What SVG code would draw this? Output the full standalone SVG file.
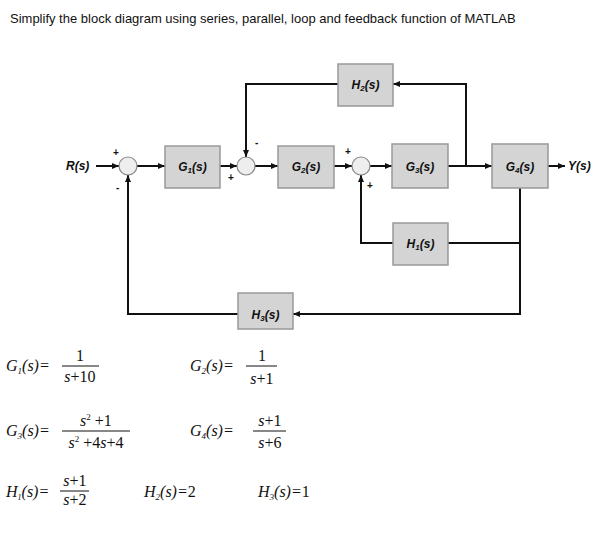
<svg xmlns="http://www.w3.org/2000/svg" width="606" height="554" viewBox="0 0 606 554">
<defs>
<marker id="a" markerWidth="8" markerHeight="8" refX="7" refY="4" orient="auto" markerUnits="userSpaceOnUse"><path d="M0,1 L7,4 L0,7 z" fill="#111"/></marker>
</defs>
<style>
.b{fill:#d4d4d4;stroke:#999;stroke-width:1.5}
.s{fill:#eee;stroke:#888;stroke-width:1.2}
.l{font-family:"Liberation Sans",Arial,sans-serif;font-weight:bold;font-style:italic;font-size:12px;fill:#111}
.c path{fill:none;stroke:#111;stroke-width:2;marker-end:url(#a)}
.c .n{marker-end:none}
.g{font-family:"Liberation Sans",Arial,sans-serif;font-weight:bold;font-size:10px;fill:#111}
.e{font-family:"Liberation Serif","Times New Roman",serif;font-style:italic;font-size:16px;fill:#111}
.r{font-style:normal}
.f{stroke:#111;stroke-width:1}
</style>
<rect width="606" height="554" fill="#fff"/>
<text x="10" y="23" font-family="Liberation Sans,Arial,sans-serif" font-size="13" fill="#111">Simplify the block diagram using series, parallel, loop and feedback function of MATLAB</text>
<g class="c">
<path d="M96,166 H119"/>
<path d="M137,166 H165"/>
<path d="M220,166 H237"/>
<path d="M255,166 H278"/>
<path d="M334,166 H352"/>
<path d="M370,166 H392"/>
<path d="M448,166 H492"/>
<path d="M548,166 H565"/>
<path d="M466,166 V84 H393"/>
<path d="M338,84 H246 V157"/>
<path d="M520,188 V314 H293"/>
<path class="n" d="M520,243 H448"/>
<path d="M393,243 H361 V175"/>
<path d="M238,314 H128 V175"/>
</g>
<g id="sum1"><circle class="s" cx="128" cy="166" r="9"/><text class="g" x="113" y="156">+</text><text class="g" x="116" y="191">-</text></g>
<g id="sum2"><circle class="s" cx="246" cy="166" r="9"/><text class="g" x="255" y="146">-</text><text class="g" x="228" y="181">+</text></g>
<g id="sum3"><circle class="s" cx="361" cy="166" r="9"/><text class="g" x="345" y="155">+</text><text class="g" x="367" y="189">+</text></g>
<g id="G1"><rect class="b" x="165" y="146" width="55" height="42"/><text class="l" x="192.5" y="171" text-anchor="middle">G<tspan font-size="8" dy="2">1</tspan><tspan dy="-2">(s)</tspan></text></g>
<g id="G2"><rect class="b" x="278" y="146" width="56" height="42"/><text class="l" x="306" y="171" text-anchor="middle">G<tspan font-size="8" dy="2">2</tspan><tspan dy="-2">(s)</tspan></text></g>
<g id="G3"><rect class="b" x="392" y="144" width="56" height="44"/><text class="l" x="420" y="171" text-anchor="middle">G<tspan font-size="8" dy="2">3</tspan><tspan dy="-2">(s)</tspan></text></g>
<g id="G4"><rect class="b" x="492" y="144" width="56" height="44"/><text class="l" x="520" y="171" text-anchor="middle">G<tspan font-size="8" dy="2">4</tspan><tspan dy="-2">(s)</tspan></text></g>
<g id="H2"><rect class="b" x="338" y="64" width="55" height="42"/><text class="l" x="365.5" y="89" text-anchor="middle">H<tspan font-size="8" dy="2">2</tspan><tspan dy="-2">(s)</tspan></text></g>
<g id="H1"><rect class="b" x="393" y="223" width="55" height="42"/><text class="l" x="420.5" y="248" text-anchor="middle">H<tspan font-size="8" dy="2">1</tspan><tspan dy="-2">(s)</tspan></text></g>
<g id="H3"><rect class="b" x="238" y="293" width="55" height="36"/><text class="l" x="265.5" y="319" text-anchor="middle">H<tspan font-size="8" dy="2">3</tspan><tspan dy="-2">(s)</tspan></text></g>
<text class="l" x="66" y="170">R(s)</text>
<text class="l" x="568" y="170">Y(s)</text>
<g id="eqs">
<text class="e" x="6" y="371">G<tspan font-size="9" dy="3">1</tspan><tspan dy="-3">(s)=</tspan></text>
<text class="e r" x="80" y="361" text-anchor="middle">1</text><line class="f" x1="62" y1="366" x2="99" y2="366"/><text class="e" x="80" y="382" text-anchor="middle">s<tspan class="r">+10</tspan></text>
<text class="e" x="190" y="371">G<tspan font-size="9" dy="3">2</tspan><tspan dy="-3">(s)=</tspan></text>
<text class="e r" x="262" y="361" text-anchor="middle">1</text><line class="f" x1="246" y1="366" x2="277" y2="366"/><text class="e" x="262" y="384" text-anchor="middle">s<tspan class="r">+1</tspan></text>
<text class="e" x="6" y="436">G<tspan font-size="9" dy="3">3</tspan><tspan dy="-3">(s)=</tspan></text>
<text class="e" x="96" y="426" text-anchor="middle">s<tspan font-size="9" dy="-6" class="r">2</tspan><tspan dy="6" class="r"> +1</tspan></text><line class="f" x1="62" y1="431" x2="130" y2="431"/><text class="e" x="96" y="448" text-anchor="middle">s<tspan font-size="9" dy="-6" class="r">2</tspan><tspan dy="6" class="r"> +4</tspan>s<tspan class="r">+4</tspan></text>
<text class="e" x="190" y="436">G<tspan font-size="9" dy="3">4</tspan><tspan dy="-3">(s)=</tspan></text>
<text class="e" x="270" y="426" text-anchor="middle">s<tspan class="r">+1</tspan></text><line class="f" x1="253" y1="431" x2="286" y2="431"/><text class="e" x="270" y="448" text-anchor="middle">s<tspan class="r">+6</tspan></text>
<text class="e" x="6" y="497" font-size="13">H<tspan font-size="8" dy="3">1</tspan><tspan dy="-3">(s)=</tspan></text>
<text class="e" x="75" y="486" font-size="13" text-anchor="middle">s<tspan class="r">+1</tspan></text><line class="f" x1="60" y1="491" x2="89" y2="491"/><text class="e" x="75" y="505" font-size="13" text-anchor="middle">s<tspan class="r">+2</tspan></text>
<text class="e" x="144" y="497">H<tspan font-size="9" dy="3">2</tspan><tspan dy="-3">(s)=</tspan><tspan class="r">2</tspan></text>
<text class="e" x="258" y="497">H<tspan font-size="9" dy="3">3</tspan><tspan dy="-3">(s)=</tspan><tspan class="r">1</tspan></text>
</g>
</svg>
